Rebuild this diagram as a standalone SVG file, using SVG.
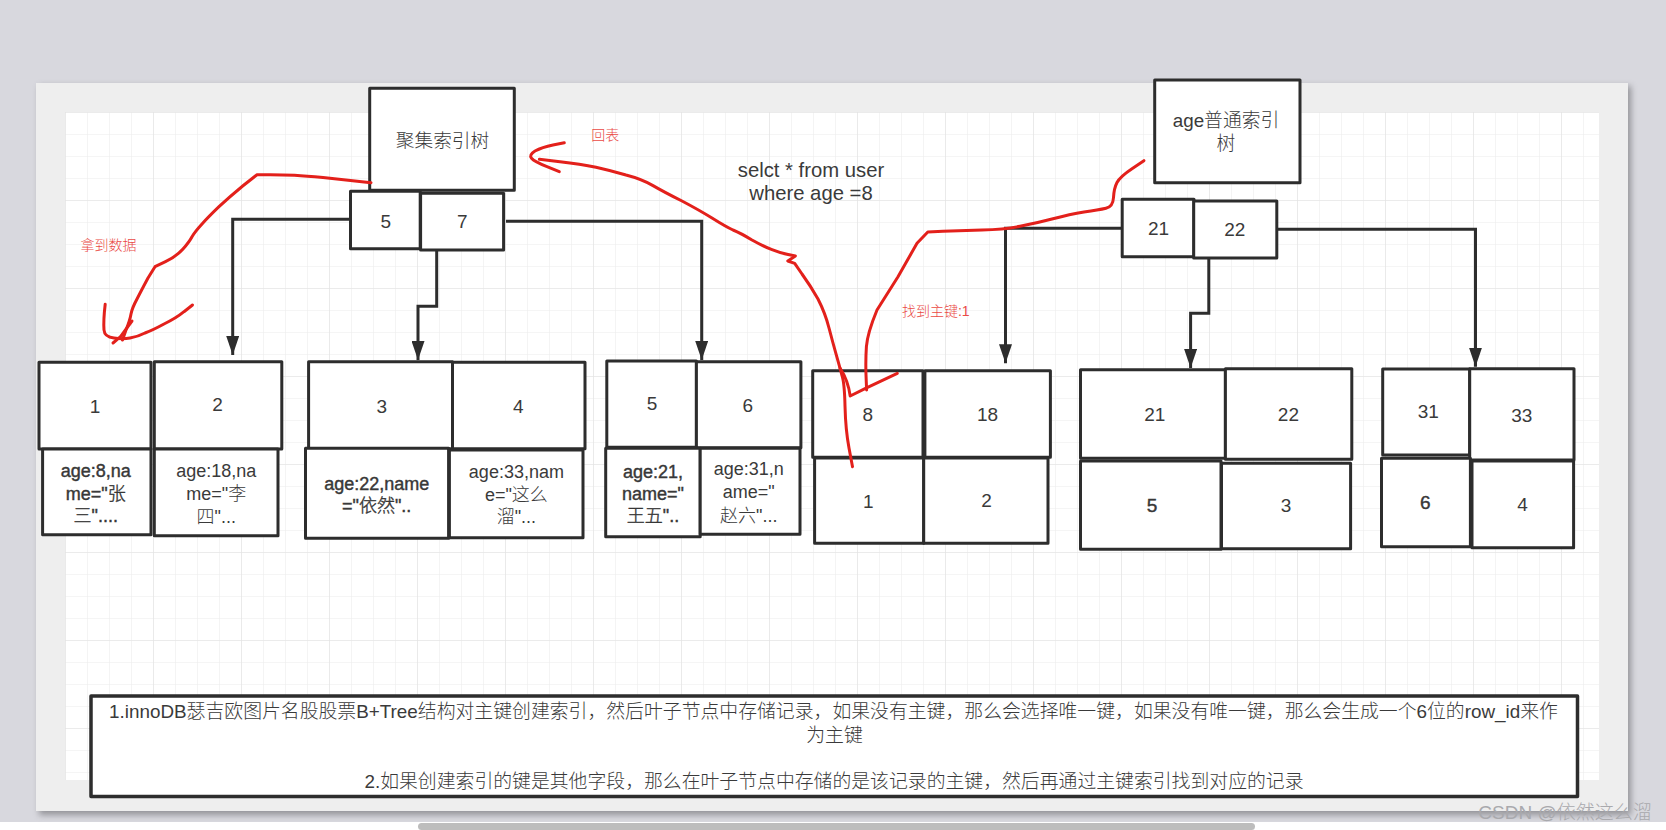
<svg xmlns="http://www.w3.org/2000/svg" width="1666" height="830" viewBox="0 0 1666 830">
<style>
text{font-family:"Liberation Sans","Noto Sans CJK SC",sans-serif;font-size:18px;fill:#3a3a3a;text-anchor:middle;font-weight:300}
.n{font-size:19px}
.box{fill:#fff;stroke:#2d2d2d;stroke-width:3;stroke-linejoin:round}
.b{stroke:#333;stroke-width:.4}
.conn{fill:none;stroke:#2d2d2d;stroke-width:3;marker-end:url(#arrow)}
.ink{fill:none;stroke:#e3201b;stroke-width:3;stroke-linejoin:round;stroke-linecap:round}
text.red{fill:#ea4a45;font-size:14px}
</style>
<defs>
<marker id="arrow" markerUnits="userSpaceOnUse" markerWidth="19" markerHeight="13" refX="19" refY="6.500" orient="auto" viewBox="0 0 19 13"><path d="M0 0L19 6.500L0 13Z" fill="#2d2d2d"/></marker>
<pattern id="minor" width="22" height="22" patternUnits="userSpaceOnUse" x="65" y="112"><path d="M0 0H22M0 0V22" fill="none" stroke="#ececec" stroke-width="1.200"/></pattern>
<pattern id="major" width="88" height="88" patternUnits="userSpaceOnUse" x="65" y="112"><path d="M0 0H88M0 0V88" fill="none" stroke="#e2e2e2" stroke-width="1.200"/></pattern>
<filter id="sh" x="-2%" y="-3%" width="104%" height="106%"><feGaussianBlur stdDeviation="3"/></filter>
</defs>
<rect id="backdrop" width="1666" height="822" fill="#d8d8de"/>
<rect x="39" y="86" width="1592" height="729" fill="#77777c" opacity=".7" filter="url(#sh)"/>
<rect id="page" x="36" y="83" width="1592" height="728" fill="#eee"/>
<rect x="65" y="112" width="1534" height="668" fill="#fff"/>
<rect x="65" y="112" width="1534" height="668" fill="url(#minor)"/>
<rect x="65" y="112" width="1534" height="668" fill="url(#major)"/>
<rect id="scrollbar" x="418" y="823" width="837" height="7" rx="3.500" fill="#bdbdbd"/>
<g id="connectors">
<path class="conn" d="M350.500 219.300H232.700V355"/>
<path class="conn" d="M436.700 250V306.300H418V360"/>
<path class="conn" d="M506 221.300H701.700V360"/>
<path class="conn" d="M1122 228.300H1005.500V363.300"/>
<path class="conn" d="M1208.800 258V313.300H1190.600V368"/>
<path class="conn" d="M1277.600 229.300H1475.500V366.700"/>
</g>
<g id="clustered-root"><rect class="box" x="369.700" y="88.300" width="144.600" height="102"/><text x="442.500" y="147" style="font-size:18.700px">聚集索引树</text></g>
<g id="c5"><rect class="box" x="350.500" y="191.300" width="69.700" height="57.400"/><text class="n" x="385.800" y="227.500">5</text></g>
<g id="c7"><rect class="box" x="420.600" y="193.300" width="83" height="56.700"/><text class="n" x="462.300" y="228">7</text></g>
<g id="age-root"><rect class="box" x="1154.700" y="80" width="145.300" height="102.700"/><text x="1226" y="126.500" style="font-size:18.800px">age普通索引</text><text x="1226" y="149.500" style="font-size:18.800px">树</text></g>
<g id="s21"><rect class="box" x="1122.200" y="199.300" width="71.800" height="57.400"/><text class="n" x="1158.600" y="235">21</text></g>
<g id="s22"><rect class="box" x="1193.700" y="201" width="83.100" height="57"/><text class="n" x="1234.700" y="236">22</text></g>
<g id="leaf-1"><rect class="box" x="39" y="362.300" width="112" height="86.700"/><text class="n" x="95" y="412.500">1</text></g>
<g id="leaf-2"><rect class="box" x="154.300" y="361.700" width="127.500" height="87.300"/><text class="n" x="217.500" y="410.500">2</text></g>
<g id="rec-1"><rect class="box" x="42.600" y="449" width="108.400" height="85.700"/><text class="b" x="95.800" y="477">age:8,na</text><text class="b" x="95.800" y="499.500">me="张</text><text class="b" x="95.800" y="521.500">三"....</text></g>
<g id="rec-2"><rect class="box" x="154.300" y="449" width="123.700" height="86.700"/><text x="216.300" y="477">age:18,na</text><text x="216.300" y="499.500">me="李</text><text x="216.300" y="522.500">四"...</text></g>
<g id="leaf-3"><rect class="box" x="308.600" y="361.700" width="143.900" height="87"/><text class="n" x="381.700" y="412.500">3</text></g>
<g id="leaf-4"><rect class="box" x="452.500" y="362.300" width="132.500" height="86.400"/><text class="n" x="518.300" y="412.500">4</text></g>
<g id="rec-3"><rect class="box" x="305.500" y="448.300" width="143.100" height="90"/><text class="b" x="376.700" y="489.500">age:22,name</text><text class="b" x="376.700" y="512">="依然"..</text></g>
<g id="rec-4"><rect class="box" x="449.400" y="450" width="133.600" height="87.700"/><text x="516.400" y="477.500">age:33,nam</text><text x="516.400" y="500.500">e="这么</text><text x="516.400" y="523">溜"...</text></g>
<g id="leaf-5"><rect class="box" x="606.800" y="361" width="89.600" height="86.300"/><text class="n" x="652" y="410">5</text></g>
<g id="leaf-6"><rect class="box" x="696.400" y="361.700" width="104.500" height="86"/><text class="n" x="747.700" y="411.500">6</text></g>
<g id="rec-5"><rect class="box" x="605.700" y="448.300" width="94.500" height="88.400"/><text class="b" x="653" y="478">age:21,</text><text class="b" x="653" y="500">name="</text><text class="b" x="653" y="521.500">王五"..</text></g>
<g id="rec-6"><rect class="box" x="700.200" y="448.300" width="99.800" height="86"/><text x="748.800" y="475">age:31,n</text><text x="748.800" y="497.500">ame="</text><text x="748.800" y="521.500">赵六"...</text></g>
<g id="s-leaf-8"><rect class="box" x="812.700" y="370.700" width="110.300" height="86.600"/><text class="n" x="867.800" y="421">8</text></g>
<g id="s-leaf-18"><rect class="box" x="924.900" y="370.700" width="125.500" height="86.600"/><text class="n" x="987.600" y="421">18</text></g>
<g id="s-pk-1"><rect class="box" x="814.600" y="458" width="109.100" height="85.300"/><text class="n" x="868.200" y="507.500">1</text></g>
<g id="s-pk-2"><rect class="box" x="923.700" y="458" width="124.300" height="85.300"/><text class="n" x="986.500" y="507">2</text></g>
<g id="s-leaf-21"><rect class="box" x="1080.500" y="369.700" width="144.900" height="88.600"/><text class="n" x="1154.700" y="421">21</text></g>
<g id="s-leaf-22"><rect class="box" x="1225.400" y="368.700" width="126.400" height="90.600"/><text class="n" x="1288.400" y="421">22</text></g>
<g id="s-pk-5"><rect class="box" x="1080.500" y="461" width="140.500" height="88.300"/><text class="n b" x="1152" y="512">5</text></g>
<g id="s-pk-3"><rect class="box" x="1221.500" y="463.300" width="129.100" height="85.400"/><text class="n" x="1286" y="512">3</text></g>
<g id="s-leaf-31"><rect class="box" x="1382.700" y="369" width="87" height="86"/><text class="n" x="1428.300" y="418">31</text></g>
<g id="s-leaf-33"><rect class="box" x="1469.700" y="368.700" width="104.300" height="91.300"/><text class="n" x="1521.800" y="421.500">33</text></g>
<g id="s-pk-6"><rect class="box" x="1381.500" y="458.300" width="88.900" height="88.400"/><text class="n b" x="1425.200" y="509">6</text></g>
<g id="s-pk-4"><rect class="box" x="1472" y="461" width="101.600" height="86.700"/><text class="n" x="1522.600" y="510.500">4</text></g>
<g id="note" style="font-size:18.850px"><rect class="box" x="91" y="696" width="1486.500" height="100.500" style="stroke-width:3.500"/>
<text x="833.500" y="718" style="font-size:18.850px">1.innoDB瑟吉欧图片名股股票B+Tree结构对主键创建索引，然后叶子节点中存储记录，如果没有主键，那么会选择唯一键，如果没有唯一键，那么会生成一个6位的row_id来作</text>
<text x="834.500" y="741.500" style="font-size:18.850px">为主键</text>
<text x="834" y="788" style="font-size:18.850px">2.如果创建索引的键是其他字段，那么在叶子节点中存储的是该记录的主键，然后再通过主键索引找到对应的记录</text></g>
<g id="query"><text x="811" y="177" style="font-size:20.300px">selct * from user</text><text x="811" y="199.500" style="font-size:20.300px">where age =8</text></g>
<g id="annotations">
<path class="ink" d="M371 182.700L323 177.500Q306 176 294.500 175.300Q283 174.700 270 174.700L257 174.700L243 185.700Q229.600 196.700 219 206.700Q208.600 216.700 202 224Q195 231.700 192 236.700Q189.400 241.700 183 249Q176 256.700 165.500 261.700L155 266.700L148 278Q141.600 290 137 299Q132 308.300 131 314Q130 320 126 330L122.500 340"/>
<path class="ink" d="M132 321L120.500 336.700L113 343"/>
<path class="ink" d="M105.200 304.300Q103.300 320 104 330Q104.500 337 114 338Q122.500 339.300 130 338Q137.800 336.700 145 333Q153 330 164 324Q176 318.300 184 311.700L192.500 305"/>
<path class="ink" d="M564.300 142.700L553 145Q542 147.300 535 151Q528.700 155 531.500 158.300Q534.400 161.700 547 166.700L559.300 171.700"/>
<path class="ink" d="M539.400 159.300L560 161.700Q580.400 164 596 167.300Q611 170.700 626 175Q641.600 179 653 185.600Q664.600 192.300 682 201Q699 210 712 218Q725.800 226.700 733 230Q741 233.300 752 240Q764 246.700 772 249.700Q779.400 252.700 787 254.300L795.400 256L787.800 261L794.700 263.300L802 274Q810 285 818 299Q825.300 313.300 829 328Q833 343.300 836.500 355.600Q840 368 842 375.500Q844.500 383 845 406Q845.600 430 849 448L852.500 466.700"/>
<path class="ink" d="M840 368Q848 380 850.200 396L865.500 388.300L897.300 373.300"/>
<path class="ink" d="M1143.900 160.700L1132 168.700Q1120 176.700 1117 182.500Q1114 188.300 1113.500 197.500Q1113 206.700 1106 208.300Q1098.600 210 1084 212Q1070 214.300 1053 218.800Q1035.800 223.300 1020 226.300Q1005 229.300 982 230Q959 230.700 943 231.300L927.800 232L917 243.300L898 276.700L877 310Q867.400 333.300 866.400 346.600Q865.500 360 866 375L866.600 390"/>
<text class="red" x="108.500" y="250">拿到数据</text>
<text class="red" x="605.300" y="140">回表</text>
<text class="red" x="935.800" y="316">找到主键:1</text>
</g>
<text id="watermark" x="1565" y="818.500" style="font-size:19px;fill:#a9a9ad">CSDN @依然这么溜</text>
</svg>
